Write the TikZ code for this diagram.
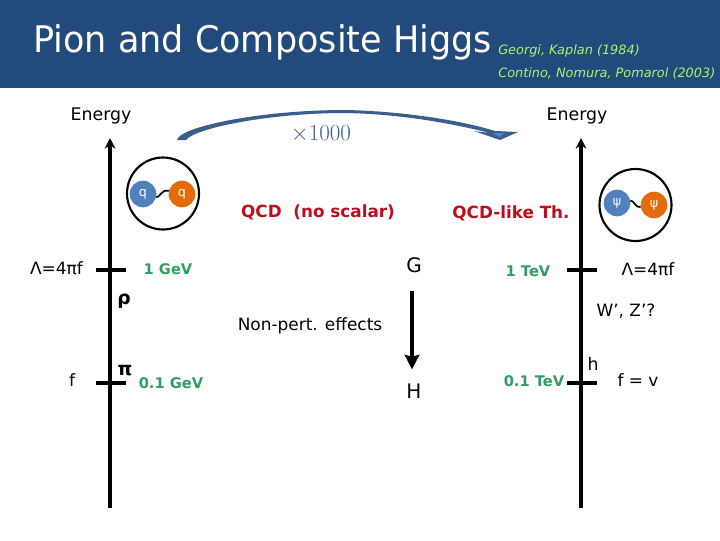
\documentclass[tikz,border=0pt]{standalone}
\usepackage{fontspec}
\setmainfont{DejaVu Sans}
\newfontfamily\titlefont[FakeStretch=0.955]{DejaVu Sans}
\usepackage{xcolor}
\usetikzlibrary{arrows.meta,calc}
\definecolor{headblue}{HTML}{234A7C}
\definecolor{quarkblue}{HTML}{4F81BD}
\definecolor{quarkorange}{HTML}{E36C0A}
\definecolor{scalegreen}{HTML}{2E9E63}
\definecolor{theoryred}{HTML}{C00D1E}
\definecolor{citegreen}{HTML}{A6F76A}
\definecolor{factorblue}{HTML}{3A5F8C}
\tikzset{
    txt/.style={font=\fontsize{13}{15}\selectfont, inner sep=0pt},
    small/.style={font=\fontsize{12.7}{15}\selectfont, inner sep=0pt},
    scalelab/.style={font=\fontsize{11}{13}\selectfont\bfseries, text=scalegreen, inner sep=0pt},
    theory/.style={font=\fontsize{12.6}{15}\selectfont\bfseries, text=theoryred, inner sep=0pt},
    cite/.style={font=\fontsize{9.65}{11}\selectfont\itshape, text=citegreen, inner sep=0pt, anchor=west},
    axisline/.style={line width=2.6pt},
    tick/.style={line width=2.6pt},
    bubble/.style={circle, draw, line width=1.6pt, minimum size=54pt, inner sep=0pt},
    quark/.style={circle, minimum size=20pt, inner sep=0pt, text=white, font=\fontsize{9.5}{11}\selectfont},
    gluon/.style={line width=1.3pt},
    greek/.style={font=\fontsize{14}{16}\selectfont\bfseries, inner sep=0pt},
    letter/.style={font=\fontsize{15}{17}\selectfont, inner sep=0pt}
}
\begin{document}
\begin{tikzpicture}[x=0.75pt,y=-0.75pt]
    \useasboundingbox (0,0) rectangle (720,540);

    % header
    \fill[headblue] (0,0) rectangle (720,88);
    \node[font=\titlefont\fontsize{27.5}{32}\selectfont, text=white, inner sep=0pt, anchor=base west] (title) at (33,52) {Pion and Composite Higgs};
    \node[cite] (cite1) at (498,51) {Georgi, Kaplan (1984)};
    \node[cite] (cite2) at (498,73) {Contino, Nomura, Pomarol (2003)};

    % the two energy axes
    \coordinate (axisLbot) at (110,508);
    \coordinate (axisLtop) at (110,138);
    \coordinate (axisRbot) at (581,508);
    \coordinate (axisRtop) at (581,138);
    \draw[axisline, -{Stealth[length=8pt,width=8pt]}] (axisLbot) -- (axisLtop);
    \draw[axisline, -{Stealth[length=8pt,width=8pt]}] (axisRbot) -- (axisRtop);
    \node[txt] (energyL) at (101,116) {Energy};
    \node[txt] (energyR) at (577,116) {Energy};

    % scale marks
    \foreach \name/\x/\y in {LamL/111/270, fL/111/383, LamR/581.5/270, fR/581.5/383} {
        \coordinate (\name a) at (\x-15,\y);
        \coordinate (\name b) at (\x+15,\y);
        \draw[tick] (\name a) -- (\name b);
    }

    % factor 1000 arrow
    \fill[factorblue] (177,140) .. controls (179,127) and (260,110) .. (345,110)
        .. controls (400,111) and (460,120) .. (495,131) -- (518,132) -- (500,140) -- (474,131) -- (490,133)
        .. controls (450,123) and (400,114) .. (345,113)
        .. controls (270,113) and (195,128) .. (186,140) -- cycle;
    \fill[quarkblue] (492,133) -- (505,133) -- (500,137) -- cycle;
    \node[font=\fontsize{18.5}{21}\selectfont, text=factorblue, inner sep=0pt] (factor) at (321,134) {$\times 1000$};

    % qq bound state
    \node[bubble] (bubL) at (163,193.5) {};
    \node[quark, fill=quarkblue] (q1) at (143,194) {q};
    \node[quark, fill=quarkorange] (q2) at (182,194) {q};
    \draw[gluon] (q1) .. controls (160,198) and (161,189) .. (q2);

    % psi psi bound state
    \node[bubble] (bubR) at (635.5,205) {};
    \node[quark, fill=quarkblue] (psi1) at (617,203) {ψ};
    \node[quark, fill=quarkorange] (psi2) at (654,205) {ψ};
    \draw[gluon] (psi1) .. controls (634,200) and (635,208) .. (psi2);

    % left column
    \node[theory] (qcd) at (318,212) {QCD\ \ (no scalar)};
    \node[small] (lamL) at (56.5,268) {Λ=4πf};
    \node[small] (fLab) at (72,380) {f};
    \node[scalelab] (gev1) at (168,269) {1 GeV};
    \node[scalelab] (gev2) at (171,383) {0.1 GeV};
    \node[greek] (rho) at (124,301) {ρ};
    \node[greek] (pion) at (125,371) {π};

    % middle
    \node[small] (nonpert) at (310,326) {Non-pert. effects};
    \node[letter] (G) at (414,265) {G};
    \node[letter] (H) at (414,391) {H};
    \draw[line width=3.4pt, -{Stealth[length=11pt,width=11pt,inset=1.5pt]}] ($(G.south)+(-2,18)$) -- ($(H.north)+(-2,-14)$);

    % right column
    \node[theory] (qcdlike) at (511,213) {QCD-like Th.};
    \node[small] (lamR) at (648,269) {Λ=4πf};
    \node[scalelab] (tev1) at (528,271) {1 TeV};
    \node[scalelab] (tev2) at (534,381) {0.1 TeV};
    \node[small] (wz) at (626,311) {W’, Z’?};
    \node[small, font=\fontsize{13}{15}\selectfont] (higgs) at (593,364) {h};
    \node[small] (fv) at (638,380) {f = v};
\end{tikzpicture}
\end{document}
